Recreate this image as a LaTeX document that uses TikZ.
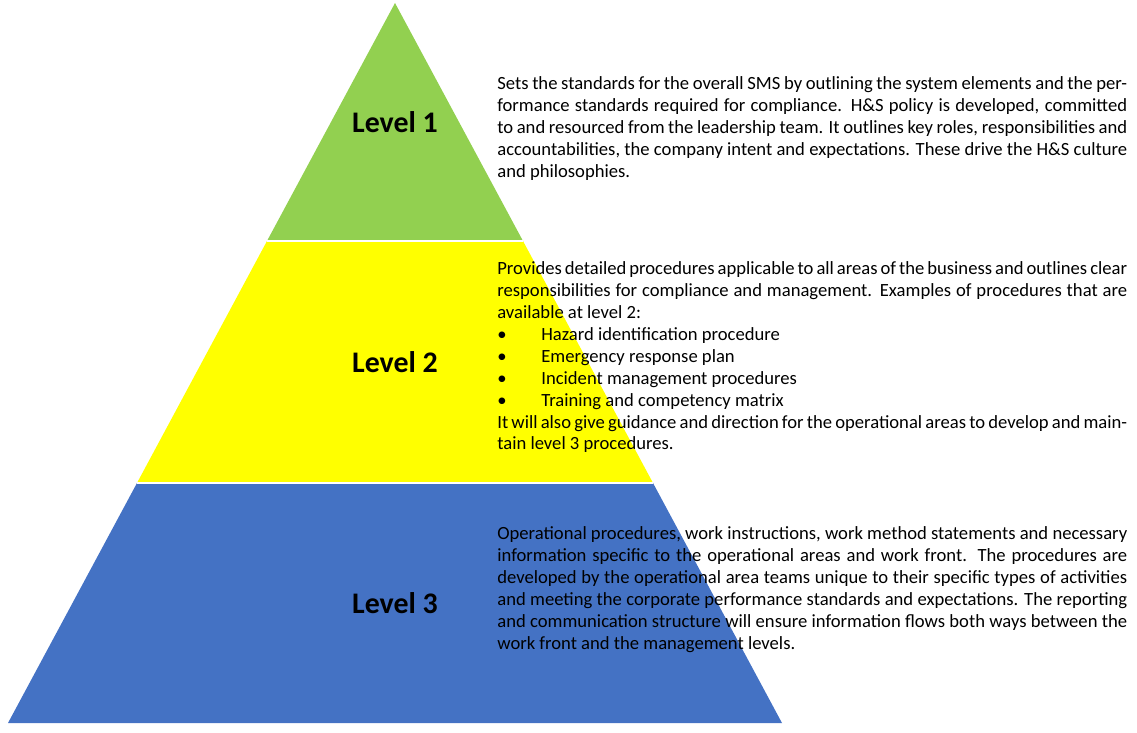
\documentclass[tikz,border=0pt]{standalone}
\usepackage{fontspec}
\setmainfont{Carlito}
\definecolor{lgreen}{HTML}{92D050}
\definecolor{lyellow}{HTML}{FFFF00}
\definecolor{lblue}{HTML}{4472C4}
\begin{document}
\begin{tikzpicture}[x=0.02cm,y=-0.02cm,
  lvl/.style={font=\fontsize{17}{20}\selectfont\bfseries},
  desc/.style={anchor=north west,inner sep=0pt,text width=12.6cm,align=justify,font=\fontsize{10.6}{12.5}\selectfont}]
\useasboundingbox (0,0) rectangle (1137,733);
\fill[lgreen] (395,3) -- (523,241) -- (267,241) -- cycle;
\fill[lyellow] (267,241) -- (523,241) -- (653,483) -- (137,483) -- cycle;
\fill[lblue] (137,483) -- (653,483) -- (782,723) -- (8,723) -- cycle;
\draw[white,line width=1pt] (267,241) -- (523,241) (137,483) -- (653,483);
\node[lvl] (l1) at (395,122) {Level 1};
\node[lvl] (l2) at (395,362) {Level 2};
\node[lvl] (l3) at (395,603) {Level 3};
\node[desc] (d1) at (497,76) {Sets the standards for the overall SMS by outlining the system elements and the performance standards required for compliance. H\&S policy is developed, committed to and resourced from the leadership team. It outlines key roles, responsibilities and accountabilities, the company intent and expectations. These drive the H\&S culture and philosophies.};
\node[desc] (d2) at (497,261) {Provides detailed procedures applicable to all areas of the business and outlines clear responsibilities for compliance and management. Examples of procedures that are available at level 2:\\
\makebox[0.88cm][l]{•}Hazard identification procedure\\
\makebox[0.88cm][l]{•}Emergency response plan\\
\makebox[0.88cm][l]{•}Incident management procedures\\
\makebox[0.88cm][l]{•}Training and competency matrix\\
It will also give guidance and direction for the operational areas to develop and maintain level 3 procedures.};
\node[desc] (d3) at (497,526) {Operational procedures, work instructions, work method statements and necessary information specific to the operational areas and work front. The procedures are developed by the operational area teams unique to their specific types of activities and meeting the corporate performance standards and expectations. The reporting and communication structure will ensure information flows both ways between the work front and the management levels.};
\end{tikzpicture}
\end{document}
